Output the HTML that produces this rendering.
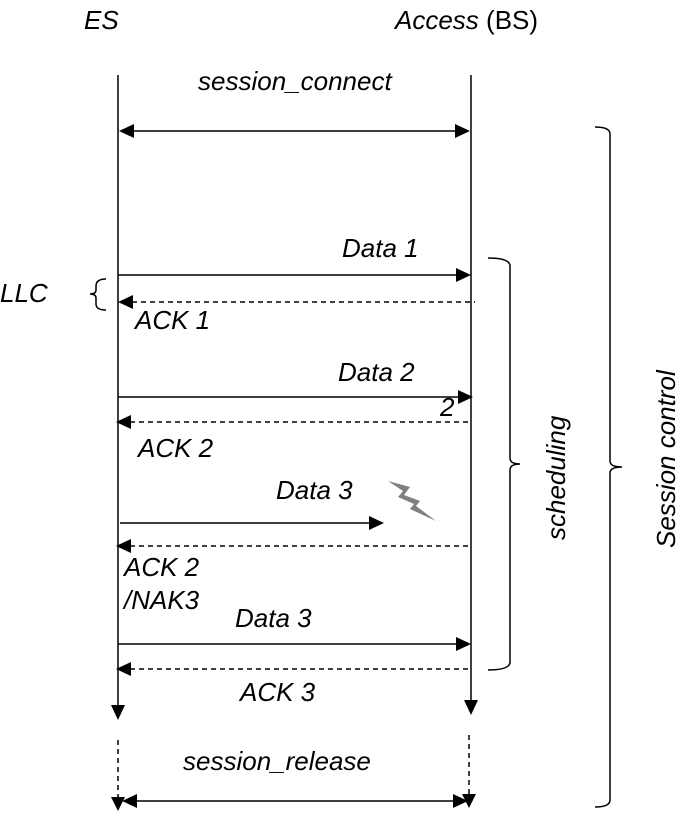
<!DOCTYPE html>
<html><head><style>
html,body{margin:0;padding:0;background:#fff;}
svg{display:block;}
text{font-family:"Liberation Sans",Arial,sans-serif;font-style:italic;font-size:26px;fill:#000;}
</style></head><body>
<svg width="685" height="813" viewBox="0 0 685 813" xmlns="http://www.w3.org/2000/svg">
<g stroke="#000" stroke-width="1.5" fill="none">
<line x1="118" y1="75" x2="118" y2="706"/>
<line x1="471" y1="75" x2="471" y2="700"/>
<path d="M111,705 L125,705 L118,720 z" fill="#000" stroke="none"/>
<path d="M464,700 L478,700 L471,715 z" fill="#000" stroke="none"/>
<line x1="118" y1="740" x2="118" y2="798" stroke-dasharray="5,4"/>
<line x1="469" y1="735" x2="469" y2="795" stroke-dasharray="5,4"/>
<path d="M111,797 L125,797 L118,811 z" fill="#000" stroke="none"/>
<path d="M462,794 L476,794 L469,808 z" fill="#000" stroke="none"/>
<line x1="121" y1="131" x2="468" y2="131"/>
<path d="M119,131 L134,124 L134,138 z" fill="#000" stroke="none"/>
<path d="M470,131 L455,124 L455,138 z" fill="#000" stroke="none"/>
<line x1="118" y1="275" x2="458" y2="275"/>
<path d="M471,275 L456,268 L456,282 z" fill="#000" stroke="none"/>
<line x1="132" y1="302" x2="475" y2="302" stroke-dasharray="5,4"/>
<path d="M118,302 L133,295 L133,309 z" fill="#000" stroke="none"/>
<line x1="118" y1="397" x2="460" y2="397"/>
<path d="M473,397 L458,390 L458,404 z" fill="#000" stroke="none"/>
<line x1="130" y1="422" x2="471" y2="422" stroke-dasharray="5,4"/>
<path d="M116,422 L131,415 L131,429 z" fill="#000" stroke="none"/>
<line x1="120" y1="523" x2="370" y2="523"/>
<path d="M384,523 L369,516 L369,530 z" fill="#000" stroke="none"/>
<line x1="130" y1="546" x2="471" y2="546" stroke-dasharray="5,4"/>
<path d="M116,546 L131,539 L131,553 z" fill="#000" stroke="none"/>
<line x1="118" y1="644" x2="458" y2="644"/>
<path d="M471,644 L456,637 L456,651 z" fill="#000" stroke="none"/>
<line x1="130" y1="669" x2="471" y2="669" stroke-dasharray="5,4"/>
<path d="M116,669 L131,662 L131,676 z" fill="#000" stroke="none"/>
<line x1="135" y1="801" x2="455" y2="801"/>
<path d="M122,801 L137,794 L137,808 z" fill="#000" stroke="none"/>
<path d="M468,801 L453,794 L453,808 z" fill="#000" stroke="none"/>
<path d="M106,279 Q96,279 96,286 L96,290 Q96,294 90,294 Q96,294 96,298 L96,304 Q96,310 106,310"/>
<path d="M488,258 Q510,258 510,266 L510,458 Q510,464 520,464 Q510,464 510,470 L510,662 Q510,670 488,670"/>
<path d="M595,127 Q610,127 610,134 L610,461 Q610,467 622,467 Q610,467 610,473 L610,800 Q610,807 595,807"/>
</g>
<path d="M388,481 L410,487 L404,495 L420,501 L416,506 L436,521 L410,509 L414,504 L398,497 L403,491 z" fill="#808080"/>
<text x="84" y="29">ES</text>
<text x="395" y="29">Access <tspan style="font-style:normal">(BS)</tspan></text>
<text x="198" y="90">session_connect</text>
<text x="342" y="257">Data 1</text>
<text x="0" y="302">LLC</text>
<text x="135" y="329">ACK 1</text>
<text x="338" y="381">Data 2</text>
<text x="440" y="416" font-size="24">2</text>
<text x="138" y="457">ACK 2</text>
<text x="276" y="499">Data 3</text>
<text x="124" y="576">ACK 2</text>
<text x="124" y="609">/NAK3</text>
<text x="235" y="627">Data 3</text>
<text x="240" y="701">ACK 3</text>
<text x="183" y="770">session_release</text>
<text transform="translate(565,540) rotate(-90)">scheduling</text>
<text transform="translate(675,548) rotate(-90)">Session control</text>
</svg>
</body></html>
